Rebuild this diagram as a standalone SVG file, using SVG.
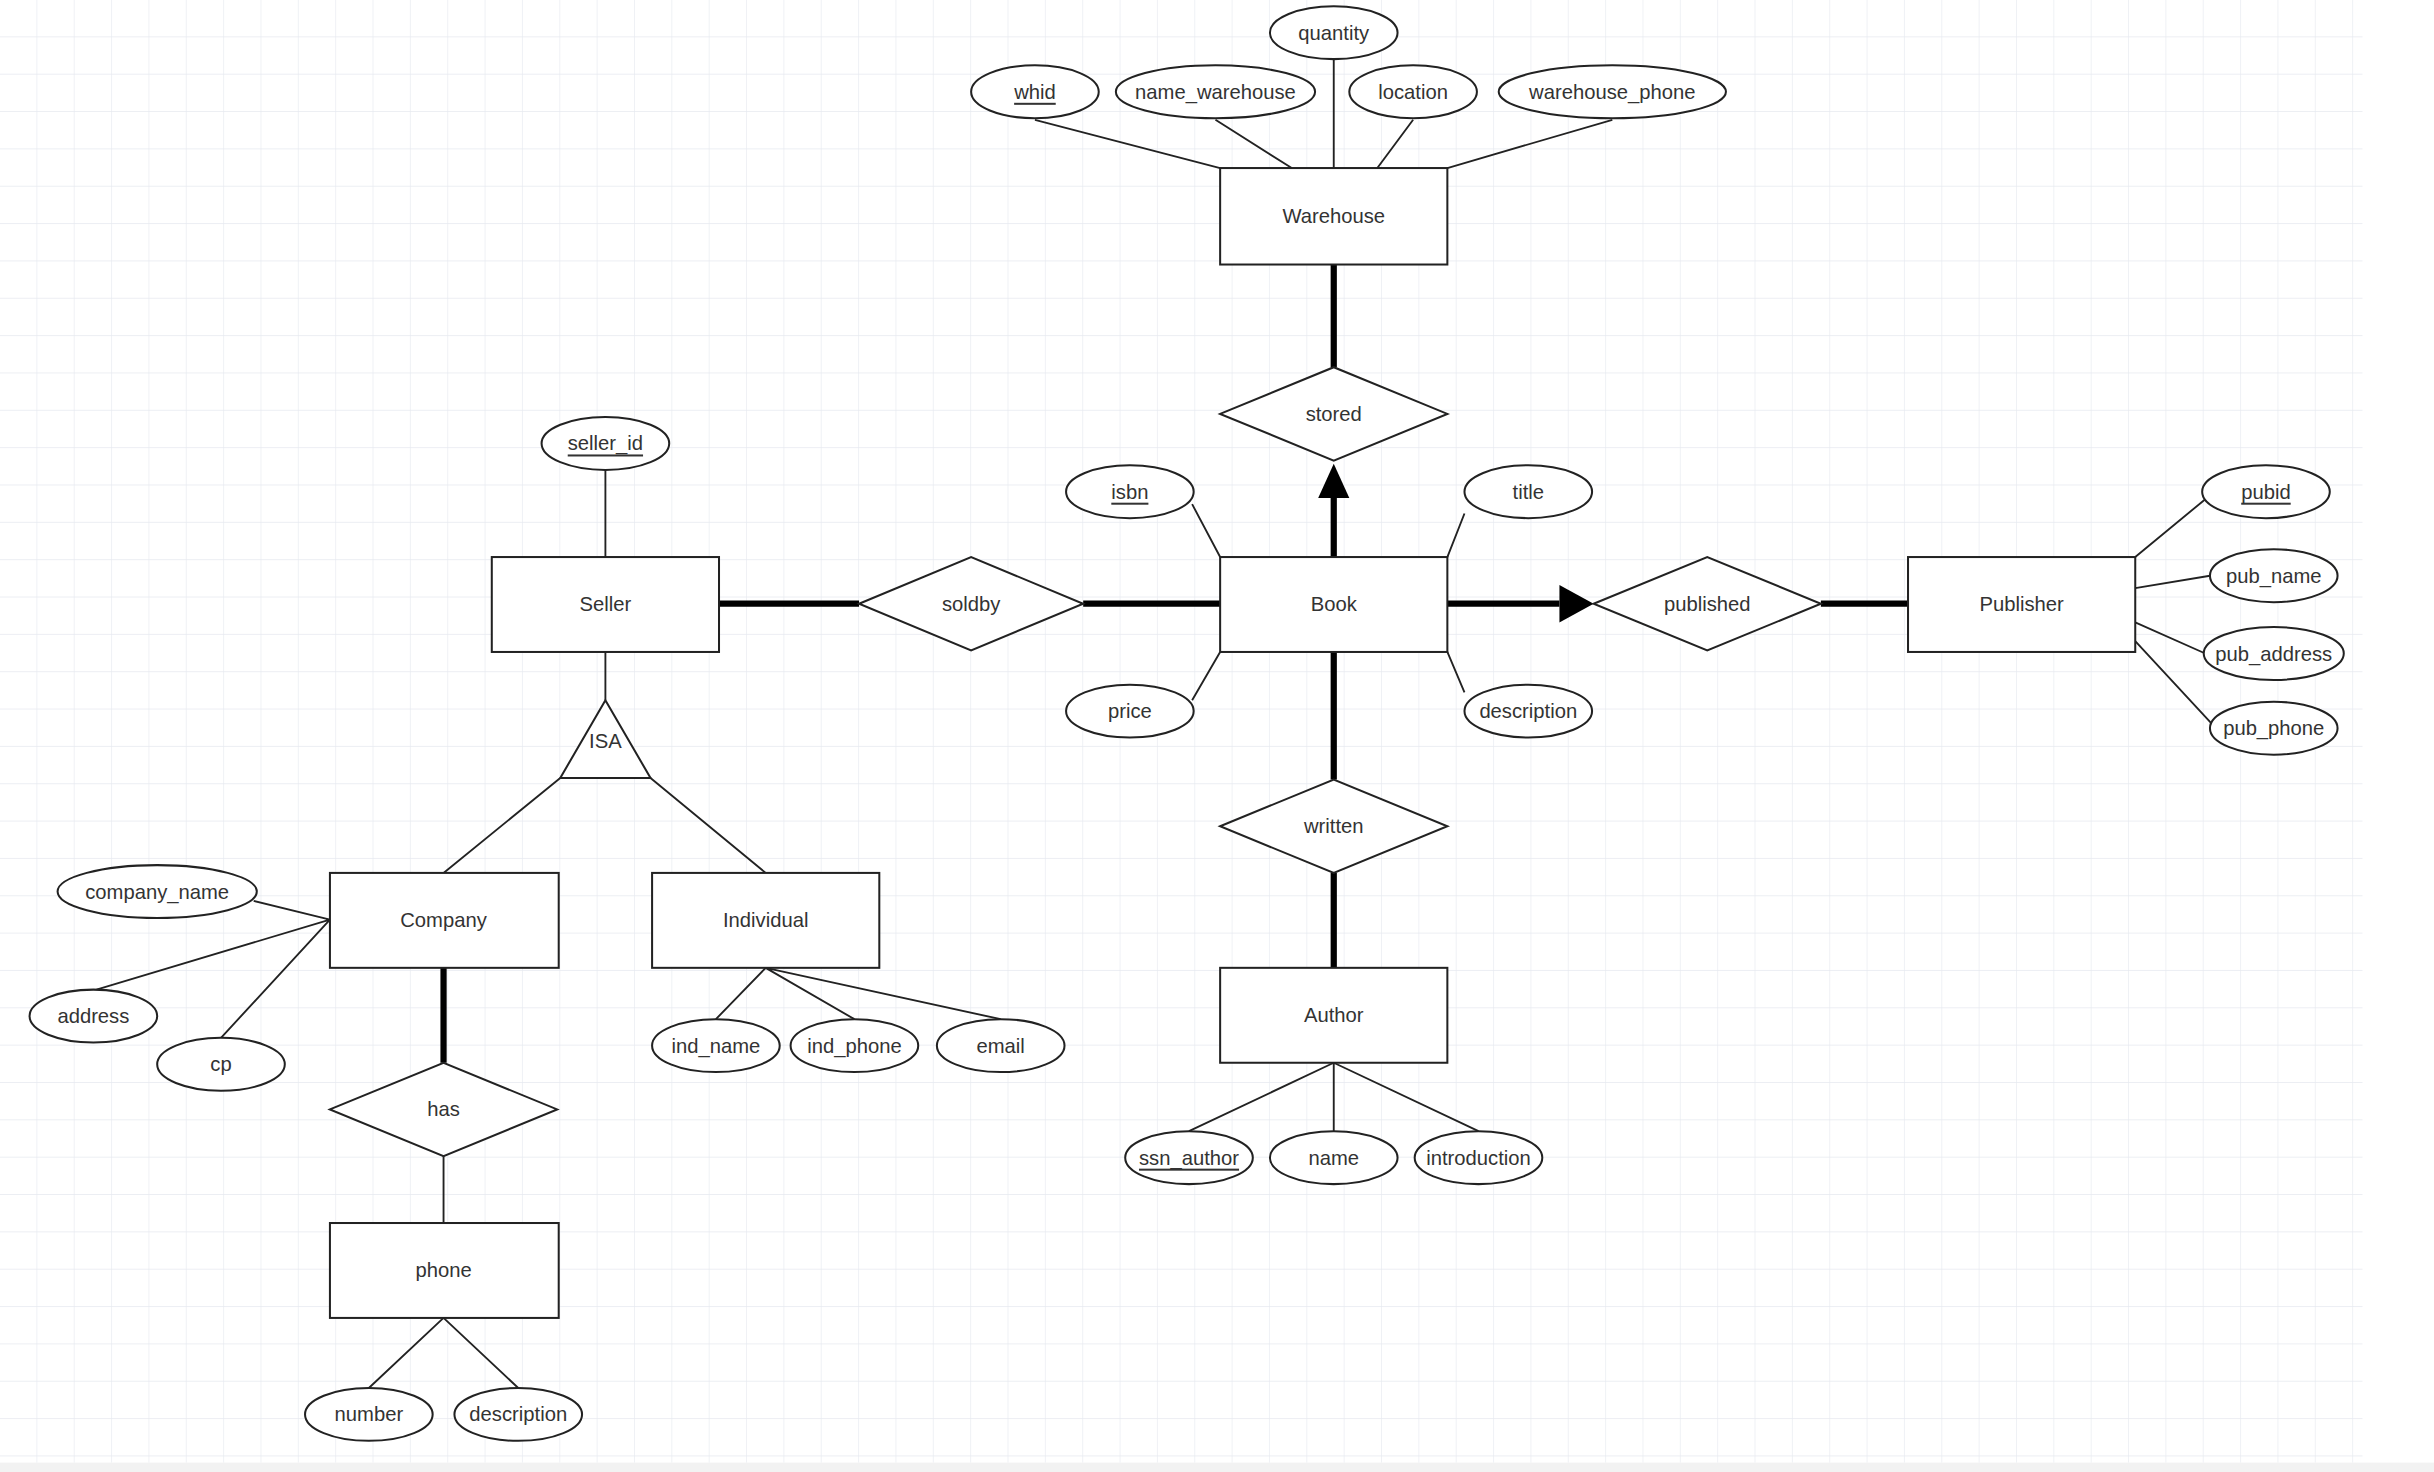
<svg xmlns="http://www.w3.org/2000/svg" width="2434" height="1472" viewBox="0 0 2434 1472">
<style>
.e{fill:#fff;stroke:#222;stroke-width:1.3}
.t{font-family:"Liberation Sans",Arial,sans-serif;font-size:13px;fill:#333;text-anchor:middle;dominant-baseline:central}
.u{text-decoration:underline}
.l{stroke:#222;stroke-width:1.2;fill:none}
.k{stroke:#000;stroke-width:4;fill:none}
</style>
<defs>
<pattern id="g" width="24" height="24" patternUnits="userSpaceOnUse"><path d="M24 0V24H0" fill="none" stroke="#e6e9f0" stroke-width="0.8"/></pattern>
</defs>
<rect width="2434" height="1472" fill="#fff"/>
<g transform="scale(1.5563,1.556)">
<rect width="1518" height="940" fill="url(#g)"/>
<rect y="940" width="1564" height="6" fill="#f2f2f2"/>
<g id="connectors">
<path class="l" d="M665 77L784 108M781 77L830 108M857 38V108M908 77L885 108M1036 77L930 108"/>
<path class="k" d="M857 170V236"/>
<path class="k" d="M857 358V320"/><path d="M847 320L857 298L867 320z"/>
<path class="l" d="M766 324L784 358M941 330L930 358M766 450L784 419M941 445L930 419"/>
<path class="k" d="M462 388H552M696 388H784"/>
<path class="l" d="M389 302V358"/>
<path class="k" d="M930 388H1002"/><path d="M1002 376L1024 388L1002 400z"/>
<path class="k" d="M1170 388H1226"/>
<path class="l" d="M1372 358L1418 320M1372 378L1420 370M1372 400L1417 420M1372 412L1422 466"/>
<path class="l" d="M389 419V450M360 500L285 561M418 500L492 561"/>
<path class="l" d="M163 579L212 591M62 636L212 591M142 667L212 591"/>
<path class="k" d="M285 622V683"/>
<path class="l" d="M285 743V786M285 847L237 892M285 847L333 892"/>
<path class="l" d="M492 622L460 655M492 622L549 655M492 622L643 655"/>
<path class="k" d="M857 419V501M857 561V622"/>
<path class="l" d="M857 683L764 727M857 683V727M857 683L950 727"/>
</g>
<g id="Warehouse"><rect class="e" x="784" y="108" width="146" height="62"/><text class="t" x="857" y="139">Warehouse</text></g>
<g id="quantity"><ellipse class="e" cx="857" cy="21" rx="41" ry="17"/><text class="t" x="857" y="21">quantity</text></g>
<g id="whid"><ellipse class="e" cx="665" cy="59" rx="41" ry="17"/><text class="t u" x="665" y="59">whid</text></g>
<g id="name_warehouse"><ellipse class="e" cx="781" cy="59" rx="64" ry="17"/><text class="t" x="781" y="59">name_warehouse</text></g>
<g id="location"><ellipse class="e" cx="908" cy="59" rx="41" ry="17"/><text class="t" x="908" y="59">location</text></g>
<g id="warehouse_phone"><ellipse class="e" cx="1036" cy="59" rx="73" ry="17"/><text class="t" x="1036" y="59">warehouse_phone</text></g>
<g id="stored"><path class="e" d="M784 266L857 236L930 266L857 296z"/><text class="t" x="857" y="266">stored</text></g>
<g id="Book"><rect class="e" x="784" y="358" width="146" height="61"/><text class="t" x="857" y="388">Book</text></g>
<g id="isbn"><ellipse class="e" cx="726" cy="316" rx="41" ry="17"/><text class="t u" x="726" y="316">isbn</text></g>
<g id="title"><ellipse class="e" cx="982" cy="316" rx="41" ry="17"/><text class="t" x="982" y="316">title</text></g>
<g id="price"><ellipse class="e" cx="726" cy="457" rx="41" ry="17"/><text class="t" x="726" y="457">price</text></g>
<g id="book_description"><ellipse class="e" cx="982" cy="457" rx="41" ry="17"/><text class="t" x="982" y="457">description</text></g>
<g id="soldby"><path class="e" d="M552 388L624 358L696 388L624 418z"/><text class="t" x="624" y="388">soldby</text></g>
<g id="Seller"><rect class="e" x="316" y="358" width="146" height="61"/><text class="t" x="389" y="388">Seller</text></g>
<g id="seller_id"><ellipse class="e" cx="389" cy="285" rx="41" ry="17"/><text class="t u" x="389" y="285">seller_id</text></g>
<g id="published"><path class="e" d="M1024 388L1097 358L1170 388L1097 418z"/><text class="t" x="1097" y="388">published</text></g>
<g id="Publisher"><rect class="e" x="1226" y="358" width="146" height="61"/><text class="t" x="1299" y="388">Publisher</text></g>
<g id="pubid"><ellipse class="e" cx="1456" cy="316" rx="41" ry="17"/><text class="t u" x="1456" y="316">pubid</text></g>
<g id="pub_name"><ellipse class="e" cx="1461" cy="370" rx="41" ry="17"/><text class="t" x="1461" y="370">pub_name</text></g>
<g id="pub_address"><ellipse class="e" cx="1461" cy="420" rx="45" ry="17"/><text class="t" x="1461" y="420">pub_address</text></g>
<g id="pub_phone"><ellipse class="e" cx="1461" cy="468" rx="41" ry="17"/><text class="t" x="1461" y="468">pub_phone</text></g>
<g id="ISA"><path class="e" stroke-width="2.5" d="M389 450L418 500H360z"/><text class="t" x="389" y="476">ISA</text></g>
<g id="Company"><rect class="e" x="212" y="561" width="147" height="61"/><text class="t" x="285" y="591">Company</text></g>
<g id="Individual"><rect class="e" x="419" y="561" width="146" height="61"/><text class="t" x="492" y="591">Individual</text></g>
<g id="company_name"><ellipse class="e" cx="101" cy="573" rx="64" ry="17"/><text class="t" x="101" y="573">company_name</text></g>
<g id="address"><ellipse class="e" cx="60" cy="653" rx="41" ry="17"/><text class="t" x="60" y="653">address</text></g>
<g id="cp"><ellipse class="e" cx="142" cy="684" rx="41" ry="17"/><text class="t" x="142" y="684">cp</text></g>
<g id="has"><path class="e" d="M212 713L285 683L358 713L285 743z"/><text class="t" x="285" y="713">has</text></g>
<g id="phone"><rect class="e" x="212" y="786" width="147" height="61"/><text class="t" x="285" y="816">phone</text></g>
<g id="number"><ellipse class="e" cx="237" cy="909" rx="41" ry="17"/><text class="t" x="237" y="909">number</text></g>
<g id="phone_description"><ellipse class="e" cx="333" cy="909" rx="41" ry="17"/><text class="t" x="333" y="909">description</text></g>
<g id="ind_name"><ellipse class="e" cx="460" cy="672" rx="41" ry="17"/><text class="t" x="460" y="672">ind_name</text></g>
<g id="ind_phone"><ellipse class="e" cx="549" cy="672" rx="41" ry="17"/><text class="t" x="549" y="672">ind_phone</text></g>
<g id="email"><ellipse class="e" cx="643" cy="672" rx="41" ry="17"/><text class="t" x="643" y="672">email</text></g>
<g id="written"><path class="e" d="M784 531L857 501L930 531L857 561z"/><text class="t" x="857" y="531">written</text></g>
<g id="Author"><rect class="e" x="784" y="622" width="146" height="61"/><text class="t" x="857" y="652">Author</text></g>
<g id="ssn_author"><ellipse class="e" cx="764" cy="744" rx="41" ry="17"/><text class="t u" x="764" y="744">ssn_author</text></g>
<g id="name"><ellipse class="e" cx="857" cy="744" rx="41" ry="17"/><text class="t" x="857" y="744">name</text></g>
<g id="introduction"><ellipse class="e" cx="950" cy="744" rx="41" ry="17"/><text class="t" x="950" y="744">introduction</text></g>
</g>
</svg>
